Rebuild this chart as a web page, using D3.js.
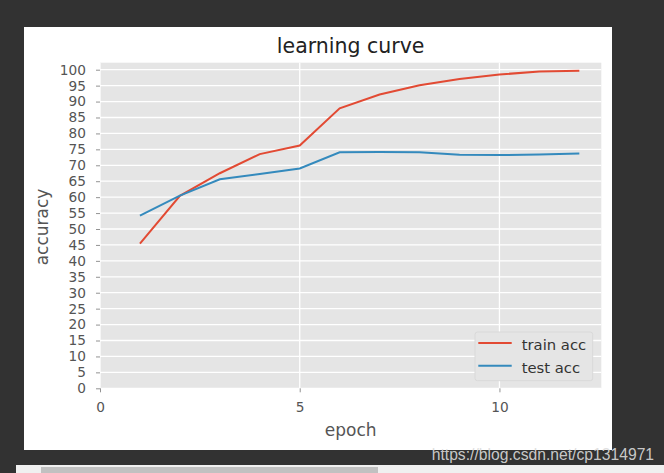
<!DOCTYPE html>
<html>
<head>
<meta charset="utf-8">
<script src="https://cdn.jsdelivr.net/npm/d3@7"></script>
<style>
  body { margin: 0; background: #323232; }
  svg { display: block; }
  .tick text { font-family: "DejaVu Sans", sans-serif; font-size: 13.7px; fill: #555555; }
</style>
</head>
<body>
<div id="chart"></div>
<script>
// chart data
const epochs = [1, 2, 3, 4, 5, 6, 7, 8, 9, 10, 11, 12];
const trainAcc = [45.4, 60.4, 67.5, 73.5, 76.2, 87.9, 92.2, 95.1, 97.1, 98.5, 99.4, 99.7];
const testAcc = [54.2, 60.5, 65.6, 67.3, 69.0, 74.1, 74.2, 74.1, 73.3, 73.2, 73.4, 73.7];
const yTicks = d3.range(0, 101, 5);
const xTicks = [0, 5, 10];
const seriesNames = ["train acc", "test acc"];
const seriesColors = ["#E24A33", "#348ABD"];

const width = 664, height = 473;
const plot = { left: 100, right: 601.3, top: 62.7, bottom: 388.3 };

const svg = d3.select("#chart").append("svg")
    .attr("width", width)
    .attr("height", height);

// white figure area
svg.append("rect")
    .attr("x", 24).attr("y", 27)
    .attr("width", 588).attr("height", 423)
    .attr("fill", "#ffffff");

const x = d3.scaleLinear().domain([0, 12.55]).range([plot.left, plot.right]);
const y = d3.scaleLinear().domain([0, 102.2]).range([plot.bottom, plot.top]);

// plot background
svg.append("rect")
    .attr("x", plot.left).attr("y", plot.top)
    .attr("width", plot.right - plot.left)
    .attr("height", plot.bottom - plot.top)
    .attr("fill", "#E5E5E5");

// grid
const grid = svg.append("g");
grid.selectAll(".hg").data(yTicks).enter().append("line")
    .attr("x1", plot.left).attr("x2", plot.right)
    .attr("y1", d => y(d)).attr("y2", d => y(d))
    .attr("stroke", "#ffffff").attr("stroke-width", 1.3);
grid.selectAll(".vg").data(xTicks).enter().append("line")
    .attr("x1", d => x(d)).attr("x2", d => x(d))
    .attr("y1", plot.top).attr("y2", plot.bottom)
    .attr("stroke", "#ffffff").attr("stroke-width", 1.3);

// axes
const yAxis = svg.append("g")
    .attr("transform", `translate(${plot.left},0)`)
    .call(d3.axisLeft(y).tickValues(yTicks).tickSize(4).tickPadding(10));
const xAxis = svg.append("g")
    .attr("transform", `translate(0,${plot.bottom})`)
    .call(d3.axisBottom(x).tickValues(xTicks).tickSize(4).tickPadding(10));
[xAxis, yAxis].forEach(a => {
    a.select(".domain").remove();
    a.selectAll(".tick line").attr("stroke", "#777777").attr("stroke-width", 0.8);
});

// lines
const line = d3.line()
    .x((d, i) => x(epochs[i]))
    .y(d => y(d));
[trainAcc, testAcc].forEach((vals, i) => {
    svg.append("path")
        .datum(vals)
        .attr("d", line)
        .attr("fill", "none")
        .attr("stroke", seriesColors[i])
        .attr("stroke-width", 2);
});

// title and axis labels
svg.append("text")
    .attr("x", (plot.left + plot.right) / 2).attr("y", 53.3)
    .attr("text-anchor", "middle")
    .style("font-family", "DejaVu Sans, sans-serif")
    .style("font-size", "20.5px")
    .attr("fill", "#222222")
    .text("learning curve");

svg.append("text")
    .attr("x", (plot.left + plot.right) / 2).attr("y", 436)
    .attr("text-anchor", "middle")
    .style("font-family", "DejaVu Sans, sans-serif")
    .style("font-size", "17px")
    .attr("fill", "#555555")
    .text("epoch");

svg.append("text")
    .attr("transform", `translate(48,227) rotate(-90)`)
    .attr("text-anchor", "middle")
    .style("font-family", "DejaVu Sans, sans-serif")
    .style("font-size", "17px")
    .attr("fill", "#555555")
    .text("accuracy");

// legend
const legend = svg.append("g").attr("transform", "translate(475,332)");
legend.append("rect")
    .attr("width", 117.7).attr("height", 48.7)
    .attr("rx", 2.5)
    .attr("fill", "#E5E5E5")
    .attr("stroke", "#d9d9d9").attr("stroke-width", 1);
seriesNames.forEach((name, i) => {
    const ly = 11 + i * 22.7;
    legend.append("line")
        .attr("x1", 3.3).attr("x2", 36.7)
        .attr("y1", ly).attr("y2", ly)
        .attr("stroke", seriesColors[i]).attr("stroke-width", 2);
    legend.append("text")
        .attr("x", 46.7).attr("y", ly + 7.3)
        .style("font-family", "DejaVu Sans, sans-serif")
        .style("font-size", "14.8px")
        .attr("fill", "#333333")
        .text(name);
});

// page chrome below the figure
svg.append("rect")
    .attr("x", 16).attr("y", 465)
    .attr("width", width - 16).attr("height", 8)
    .attr("fill", "#f0f0f0");
svg.append("rect")
    .attr("x", 41).attr("y", 467)
    .attr("width", 337).attr("height", 6)
    .attr("fill", "#c1c1c1");

svg.append("text")
    .attr("x", 431.7).attr("y", 459.5)
    .style("font-family", "Liberation Sans, Arial, sans-serif")
    .style("font-size", "15.7px")
    .attr("fill", "#dcdcdc")
    .attr("fill-opacity", 0.9)
    .text("https://blog.csdn.net/cp1314971");
</script>
</body>
</html>
